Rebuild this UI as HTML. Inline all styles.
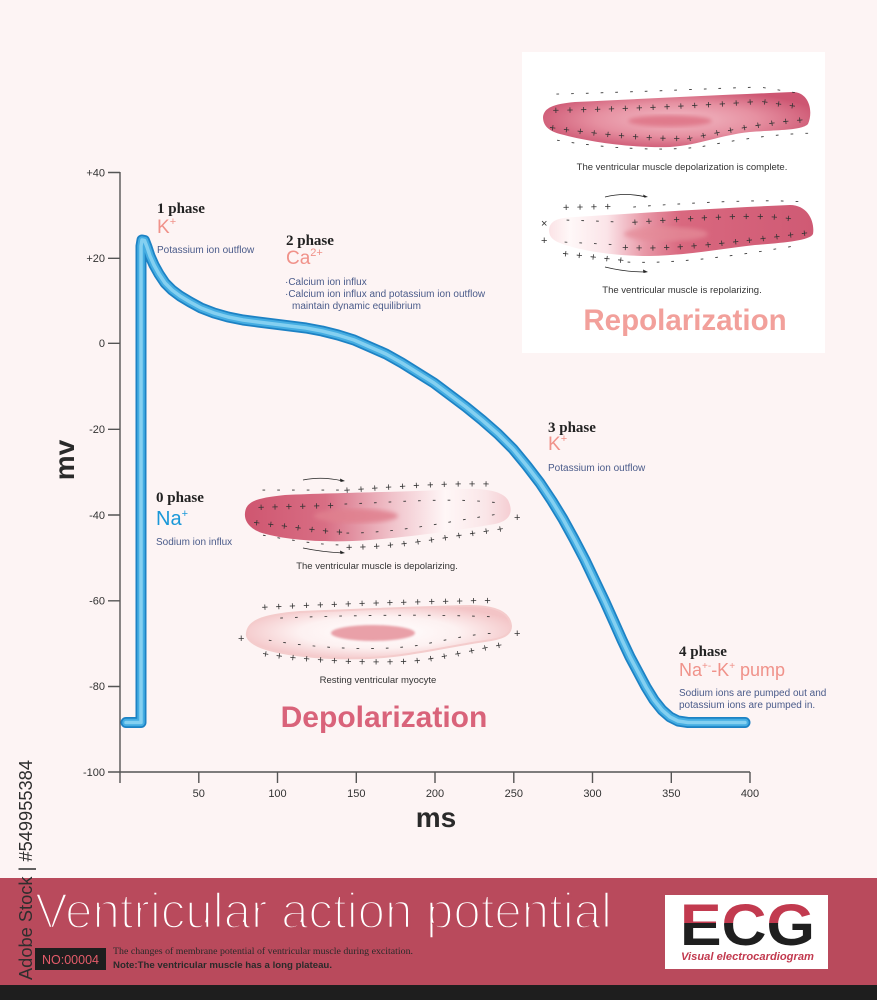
<!DOCTYPE html>
<html><head><meta charset="utf-8"><style>
html,body{margin:0;padding:0;background:#fdf4f4;}
svg{display:block;}
text{font-family:"Liberation Sans",sans-serif;}
.serif{font-family:"Liberation Serif",serif;}
</style></head><body>
<svg width="877" height="1000" viewBox="0 0 877 1000" xmlns="http://www.w3.org/2000/svg">
<defs>
<radialGradient id="gA" cx="50%" cy="50%" r="55%">
<stop offset="0" stop-color="#f2bcc6"/><stop offset="0.55" stop-color="#e690a1"/><stop offset="1" stop-color="#cd5672"/>
</radialGradient>
<linearGradient id="gB" gradientUnits="userSpaceOnUse" x1="549" y1="0" x2="813" y2="0">
<stop offset="0" stop-color="#fbe3e6"/><stop offset="0.08" stop-color="#fff8f8"/><stop offset="0.22" stop-color="#fbe4e8"/><stop offset="0.36" stop-color="#e898a7"/><stop offset="0.5" stop-color="#d9687f"/><stop offset="1" stop-color="#cf5a74"/>
</linearGradient>
<linearGradient id="gC" gradientUnits="userSpaceOnUse" x1="245" y1="0" x2="512" y2="0">
<stop offset="0" stop-color="#cf5670"/><stop offset="0.3" stop-color="#d86e84"/><stop offset="0.55" stop-color="#f0c2ca"/><stop offset="0.75" stop-color="#fff7f7"/><stop offset="0.9" stop-color="#fae6e8"/><stop offset="1" stop-color="#f5cdd2"/>
</linearGradient>
<radialGradient id="gD" cx="50%" cy="50%" r="55%">
<stop offset="0" stop-color="#ffffff"/><stop offset="0.55" stop-color="#fdf1f1"/><stop offset="1" stop-color="#f3c4c6"/>
</radialGradient>
<linearGradient id="ecg" gradientUnits="userSpaceOnUse" x1="0" y1="903" x2="0" y2="945">
<stop offset="0" stop-color="#c23a4f"/><stop offset="0.48" stop-color="#c23a4f"/><stop offset="0.48" stop-color="#1f1f1f"/><stop offset="1" stop-color="#1f1f1f"/>
</linearGradient>
<filter id="blur1"><feGaussianBlur stdDeviation="1"/></filter>
<filter id="blur2"><feGaussianBlur stdDeviation="2"/></filter>
<path id="pA1" d="M553,114 C600,113 680,111 760,105 L796,110"/>
<path id="pA2" d="M549,131 C600,138 650,143 690,142 C730,134 770,125 812,123"/>
<path id="pA3" d="M556,97 C640,95 720,91 760,90 L804,97"/>
<path id="pA4" d="M556,143 C610,152 660,154 700,150 C740,142 780,136 818,136"/>
<path id="pB1" d="M563,211 L622,210"/>
<path id="pB2" d="M633,210 C700,205 760,202 806,205"/>
<path id="pB3" d="M566,223 L622,225"/>
<path id="pB4" d="M632,226 C700,222 760,216 800,224"/>
<path id="pB5" d="M564,245 L622,248"/>
<path id="pB6" d="M622,251 C680,254 740,245 812,236"/>
<path id="pB7" d="M562,257 L622,264"/>
<path id="pB8" d="M627,265 C680,267 740,258 800,248"/>
<path id="pC1" d="M262,493 L340,493"/>
<path id="pC2" d="M344,494 C400,490 450,486 500,488"/>
<path id="pC3" d="M258,511 L340,509"/>
<path id="pC4" d="M344,507 C400,505 450,500 500,506"/>
<path id="pC5" d="M253,526 C290,530 320,535 345,536"/>
<path id="pC6" d="M346,536 C400,536 450,524 505,516"/>
<path id="pC7" d="M262,538 C290,543 320,548 345,548"/>
<path id="pC8" d="M346,551 C400,551 450,540 505,532"/>
<path id="pD1" d="M262,611 C320,608 420,605 500,604"/>
<path id="pD2" d="M262,657 C300,664 380,668 420,664 C460,658 480,652 505,648"/>
<path id="pD3" d="M280,621 C350,618 430,617 500,620"/>
<path id="pD4" d="M268,643 C320,652 380,654 420,648 C460,640 480,636 500,636"/>
</defs>

<rect width="877" height="1000" fill="#fdf4f4"/>

<rect x="522" y="52" width="303" height="301" fill="#ffffff"/>

<path d="M543,117 C544,108 553,104 575,102 C640,99 720,95 793,92 C808,92 814,110 808,124 C802,131 770,130 750,132 C720,135 700,145 670,147 C630,148 590,142 560,134 C548,131 543,125 543,117 Z" fill="url(#gA)"/>
<ellipse cx="670" cy="121" rx="42" ry="6" fill="#e07a8c" filter="url(#blur2)"/>
<g font-size="11" fill="#333">
<text letter-spacing="2.2"><textPath href="#pA1">+ + + + + + + + + + + + + + + + + + + + + + + +</textPath></text>
<text letter-spacing="2.2"><textPath href="#pA2">+ + + + + + + + + + + + + + + + + + + + + + + + +</textPath></text>
<text letter-spacing="4"><textPath href="#pA3">- - - - - - - - - - - - - - - - - - - - - - -</textPath></text>
<text letter-spacing="4"><textPath href="#pA4">- - - - - - - - - - - - - - - - - - - - - - - -</textPath></text>
</g>
<text x="682" y="170" font-size="9.5" fill="#333" text-anchor="middle">The ventricular muscle depolarization is complete.</text>

<path d="M549,230 C550,221 556,218 575,217 C640,213 720,208 790,205 C808,205 815,222 813,234 C810,241 780,243 755,245 C720,249 690,255 650,256 C610,256 578,250 560,243 C552,240 549,236 549,230 Z" fill="url(#gB)"/>
<ellipse cx="666" cy="234" rx="42" ry="7" fill="#e48b98" opacity="0.75" filter="url(#blur2)"/>
<g font-size="11" fill="#333">
<text letter-spacing="2.2"><textPath href="#pB1">+ + + + + + + +</textPath></text>
<text letter-spacing="4"><textPath href="#pB2">- - - - - - - - - - - - - - - - -</textPath></text>
<text letter-spacing="4"><textPath href="#pB3">- - - - - - - -</textPath></text>
<text letter-spacing="2.2"><textPath href="#pB4">+ + + + + + + + + + + + + + + + + +</textPath></text>
<text letter-spacing="4"><textPath href="#pB5">- - - - - - - -</textPath></text>
<text letter-spacing="2.2"><textPath href="#pB6">+ + + + + + + + + + + + + + + + + + +</textPath></text>
<text letter-spacing="2.2"><textPath href="#pB7">+ + + + + + + +</textPath></text>
<text letter-spacing="4"><textPath href="#pB8">- - - - - - - - - - - - - - - -</textPath></text>
<text x="541" y="227">×</text><text x="541" y="244">+</text>
</g>
<g stroke="#222" stroke-width="0.8" fill="none">
<path d="M605,197 Q625,192 646,197"/><path d="M605,267 Q625,272 646,272"/>
</g>
<path d="M648,197 l-5,-2.5 l1,3 z M648,272 l-5,-2.5 l0.5,3.5 z" fill="#222"/>
<text x="682" y="293" font-size="9.5" fill="#333" text-anchor="middle">The ventricular muscle is repolarizing.</text>
<text x="685" y="330" font-size="29.5" font-weight="bold" fill="#f2a09b" text-anchor="middle">Repolarization</text>

<g stroke="#555" stroke-width="1.4" fill="none">
<path d="M120,172 V772 H750"/>
<path d="M108,172.5 H120 M108,258.3 H120 M108,343.3 H120 M108,429.3 H120 M108,515 H120 M108,600.8 H120 M108,686.5 H120 M108,772 H120"/>
<path d="M120,772 V783 M198.8,772 V783 M277.5,772 V783 M356.3,772 V783 M435,772 V783 M513.8,772 V783 M592.5,772 V783 M671.3,772 V783 M750,772 V783"/>
</g>
<g font-size="11" fill="#333" text-anchor="end">
<text x="105" y="176.5">+40</text><text x="105" y="262">+20</text><text x="105" y="347">0</text>
<text x="105" y="433">-20</text><text x="105" y="519">-40</text><text x="105" y="604.5">-60</text>
<text x="105" y="690">-80</text><text x="105" y="776">-100</text>
</g>
<g font-size="11" fill="#333" text-anchor="middle">
<text x="198.8" y="797">50</text><text x="277.5" y="797">100</text><text x="356.3" y="797">150</text>
<text x="435" y="797">200</text><text x="513.8" y="797">250</text><text x="592.5" y="797">300</text>
<text x="671.3" y="797">350</text><text x="750" y="797">400</text>
</g>
<text transform="translate(74,460) rotate(-90)" font-size="28" font-weight="bold" fill="#2a2a2a" text-anchor="middle">mv</text>
<text x="436" y="827" font-size="28" font-weight="bold" fill="#2a2a2a" text-anchor="middle">ms</text>

<path d="M245,513 C246,502 255,498 285,495 C330,493 400,492 440,490 C470,488 500,487 508,500 C514,512 510,521 495,524 C460,530 410,537 370,540 C330,543 290,541 262,533 C250,529 244,521 245,513 Z" fill="url(#gC)"/>
<ellipse cx="356" cy="516" rx="42" ry="7" fill="#e0808e" opacity="0.85" filter="url(#blur2)"/>
<g font-size="11" fill="#333">
<text letter-spacing="4"><textPath href="#pC1">- - - - - - - -</textPath></text>
<text letter-spacing="2.2"><textPath href="#pC2">+ + + + + + + + + + + + +</textPath></text>
<text letter-spacing="2.2"><textPath href="#pC3">+ + + + + + + +</textPath></text>
<text letter-spacing="4"><textPath href="#pC4">- - - - - - - - - - - -</textPath></text>
<text letter-spacing="2.2"><textPath href="#pC5">+ + + + + + + +</textPath></text>
<text letter-spacing="4"><textPath href="#pC6">- - - - - - - - - - - -</textPath></text>
<text letter-spacing="4"><textPath href="#pC7">- - - - - - - -</textPath></text>
<text letter-spacing="2.2"><textPath href="#pC8">+ + + + + + + + + + + + +</textPath></text>
<text x="514" y="521">+</text>
</g>
<g stroke="#222" stroke-width="0.8" fill="none">
<path d="M303,480 Q322,476 343,481"/><path d="M303,548 Q322,552 343,553"/>
</g>
<path d="M345,481 l-5,-2.5 l0.5,3.5 z M345,553 l-5,-2.5 l0.5,3.5 z" fill="#222"/>
<text x="377" y="569" font-size="9.5" fill="#333" text-anchor="middle">The ventricular muscle is depolarizing.</text>

<path d="M247,633 C248,622 260,615 300,612 C350,610 420,607 470,606 C500,606 510,615 511,626 C511,636 500,639 485,641 C450,646 410,656 370,658 C320,660 275,654 258,646 C250,642 246,638 247,633 Z" fill="url(#gD)" stroke="#f4cccc" stroke-width="2"/>
<ellipse cx="373" cy="633" rx="42" ry="8" fill="#e9a0a8" filter="url(#blur1)"/>
<g font-size="11" fill="#333">
<text letter-spacing="2.2"><textPath href="#pD1">+ + + + + + + + + + + + + + + + + + + +</textPath></text>
<text letter-spacing="2.2"><textPath href="#pD2">+ + + + + + + + + + + + + + + + + + + +</textPath></text>
<text letter-spacing="4"><textPath href="#pD3">- - - - - - - - - - - - - - - - -</textPath></text>
<text letter-spacing="4"><textPath href="#pD4">- - - - - - - - - - - - - - - - -</textPath></text>
<text x="238" y="642">+</text><text x="514" y="637">+</text>
</g>
<text x="378" y="683" font-size="9.5" fill="#333" text-anchor="middle">Resting ventricular myocyte</text>
<text x="384" y="727" font-size="30" font-weight="bold" fill="#d9637a" text-anchor="middle">Depolarization</text>

<g fill="none" stroke-linecap="round" stroke-linejoin="round">
<polyline points="126,722.5 141,722.5 141,246 142,240 144.5,240.5 147,247 150,256 154,265 159,274 165,283 172,290 180,296 190,302 201,308 214,313 228,317 243,320 258,322 274,324 290,326 306,328 322,331 338,335 354,340 370,347 386,354 402,363 418,373 434,383 450,395 466,407 482,420 498,434 513,449 527,466 540,483 552,501 563,519 574,539 585,560 595,581 605,602 614,622 622,640 630,657 638,672 646,687 654,700 662,710 670,717 678,721 688,722.5 745,722.5" stroke="#1d82c4" stroke-width="11"/>
<polyline points="126,722.5 141,722.5 141,246 142,240 144.5,240.5 147,247 150,256 154,265 159,274 165,283 172,290 180,296 190,302 201,308 214,313 228,317 243,320 258,322 274,324 290,326 306,328 322,331 338,335 354,340 370,347 386,354 402,363 418,373 434,383 450,395 466,407 482,420 498,434 513,449 527,466 540,483 552,501 563,519 574,539 585,560 595,581 605,602 614,622 622,640 630,657 638,672 646,687 654,700 662,710 670,717 678,721 688,722.5 745,722.5" stroke="#45ade2" stroke-width="7.5"/>
<polyline points="126,722.5 141,722.5 141,246 142,240 144.5,240.5 147,247 150,256 154,265 159,274 165,283 172,290 180,296 190,302 201,308 214,313 228,317 243,320 258,322 274,324 290,326 306,328 322,331 338,335 354,340 370,347 386,354 402,363 418,373 434,383 450,395 466,407 482,420 498,434 513,449 527,466 540,483 552,501 563,519 574,539 585,560 595,581 605,602 614,622 622,640 630,657 638,672 646,687 654,700 662,710 670,717 678,721 688,722.5 745,722.5" stroke="#8fd6f3" stroke-width="3.5" opacity="0.85"/>
</g>

<g>
<text class="serif" x="157" y="213" font-size="15" font-weight="bold" fill="#222">1 phase</text>
<text x="157" y="233" font-size="19" fill="#f0928a">K<tspan font-size="11" dy="-8">+</tspan></text>
<text x="157" y="253" font-size="10" fill="#4a5b8a">Potassium ion outflow</text>

<text class="serif" x="286" y="245" font-size="15" font-weight="bold" fill="#222">2 phase</text>
<text x="286" y="264" font-size="19" fill="#f0928a">Ca<tspan font-size="11" dy="-8">2+</tspan></text>
<text x="285" y="285" font-size="10" fill="#4a5b8a">·Calcium ion influx</text>
<text x="285" y="297" font-size="10" fill="#4a5b8a">·Calcium ion influx and potassium ion outflow</text>
<text x="292" y="309" font-size="10" fill="#4a5b8a">maintain dynamic equilibrium</text>

<text class="serif" x="548" y="432" font-size="15" font-weight="bold" fill="#222">3 phase</text>
<text x="548" y="450" font-size="19" fill="#f0928a">K<tspan font-size="11" dy="-8">+</tspan></text>
<text x="548" y="471" font-size="10" fill="#4a5b8a">Potassium ion outflow</text>

<text class="serif" x="156" y="502" font-size="15" font-weight="bold" fill="#222">0 phase</text>
<text x="156" y="525" font-size="20" fill="#1a98d8">Na<tspan font-size="11" dy="-8">+</tspan></text>
<text x="156" y="545" font-size="10" fill="#4a5b8a">Sodium ion influx</text>

<text class="serif" x="679" y="656" font-size="15" font-weight="bold" fill="#222">4 phase</text>
<text x="679" y="676" font-size="18" fill="#f0928a">Na<tspan font-size="10" dy="-7">+-</tspan><tspan dy="7">-K</tspan><tspan font-size="10" dy="-7">+</tspan><tspan dy="7"> pump</tspan></text>
<text x="679" y="696" font-size="10" fill="#4a5b8a">Sodium ions are pumped out and</text>
<text x="679" y="708" font-size="10" fill="#4a5b8a">potassium ions are pumped in.</text>
</g>

<rect x="0" y="878" width="877" height="107" fill="#b94a5c"/>
<rect x="0" y="985" width="877" height="15" fill="#1e1e1e"/>
<text x="35" y="928" font-size="50" fill="#ffffff" stroke="#b94a5c" stroke-width="2.4" paint-order="fill" textLength="577" lengthAdjust="spacingAndGlyphs">Ventricular action potential</text>
<rect x="35" y="948" width="71" height="22" fill="#1e1e1e"/>
<text x="70.5" y="964" font-size="12.5" fill="#e45c6a" text-anchor="middle">NO:00004</text>
<text class="serif" x="113" y="954" font-size="9.5" fill="#2a2a2a" textLength="300" lengthAdjust="spacingAndGlyphs">The changes of membrane potential of ventricular muscle during excitation.</text>
<text x="113" y="968" font-size="9.5" font-weight="bold" fill="#2a2a2a" textLength="219" lengthAdjust="spacingAndGlyphs">Note:The ventricular muscle has a long plateau.</text>

<rect x="665" y="895" width="163" height="74" fill="#ffffff"/>
<text x="680" y="945" font-size="58" font-weight="bold" fill="url(#ecg)" textLength="135" lengthAdjust="spacingAndGlyphs">ECG</text>
<text x="681" y="960" font-size="11" font-weight="bold" font-style="italic" fill="#c23a4f" textLength="133" lengthAdjust="spacingAndGlyphs">Visual electrocardiogram</text>

<text transform="translate(32,980) rotate(-90)" font-size="18" fill="#2e2e2e" textLength="220" lengthAdjust="spacingAndGlyphs">Adobe Stock | #549955384</text>
</svg>
</body></html>
